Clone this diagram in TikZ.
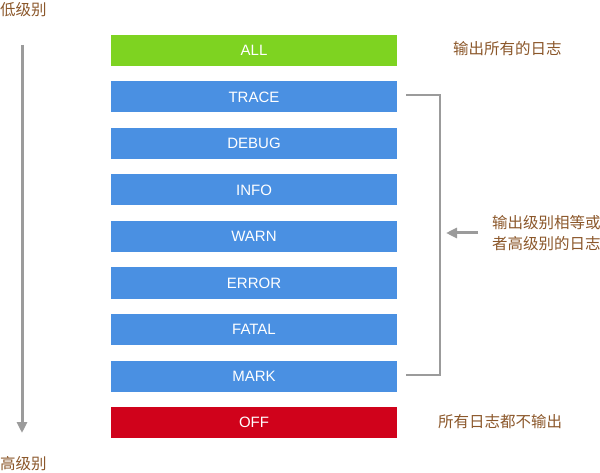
\documentclass[tikz,border=0pt]{standalone}
\usepackage{fontspec}
\setmainfont{Liberation Sans}
\newfontfamily\cjk{Noto Sans CJK SC}
\usetikzlibrary{arrows.meta}
\definecolor{lgreen}{HTML}{7ED321}
\definecolor{lblue}{HTML}{4A90E2}
\definecolor{lred}{HTML}{D0021B}
\definecolor{lbrown}{HTML}{8B572A}
\definecolor{lgray}{HTML}{9B9B9B}
\begin{document}
\begin{tikzpicture}[x=1pt,y=-1pt,
  lvl/.style={minimum width=286pt,minimum height=31pt,inner sep=0pt,text=white,font=\fontsize{15}{17}\selectfont},
  note/.style={text=lbrown,font=\cjk\fontsize{15.5}{21.5}\selectfont,inner sep=0pt,align=left},
  garrow/.style={draw=lgray,line width=3pt,-{Triangle[length=11pt,width=10pt]}}]
\useasboundingbox (0,0) rectangle (600,473);
\node[lvl,fill=lgreen] (all) at (254,50.5) {ALL};
\node[lvl,fill=lblue] (trace) at (254,97) {TRACE};
\node[lvl,fill=lblue] (debug) at (254,143.5) {DEBUG};
\node[lvl,fill=lblue] (info) at (254,190) {INFO};
\node[lvl,fill=lblue] (warn) at (254,236.5) {WARN};
\node[lvl,fill=lblue] (error) at (254,283) {ERROR};
\node[lvl,fill=lblue] (fatal) at (254,329.5) {FATAL};
\node[lvl,fill=lblue] (mark) at (254,376) {MARK};
\node[lvl,fill=lred] (off) at (254,422) {OFF};
\node[note,anchor=west] (tall) at (453,49) {输出所有的日志};
\node[note,anchor=west] (tmid) at (492,233) {输出级别相等或\\者高级别的日志};
\node[note,anchor=west] (toff) at (438,422) {所有日志都不输出};
\node[note,anchor=west] (low) at (0,10) {低级别};
\node[note,anchor=west] (high) at (0,464) {高级别};
\coordinate (b1) at (406,95);
\coordinate (b2) at (440,95);
\coordinate (b3) at (440,375);
\coordinate (b4) at (406,375);
\draw[lgray,line width=1.5pt] (b1) -- (b2) -- (b3) -- (b4);
\coordinate (a1) at (478,233);
\coordinate (a2) at (446,233);
\draw[garrow] (a1) -- (a2);
\coordinate (l1) at (22,45);
\coordinate (l2) at (22,433);
\draw[garrow] (l1) -- (l2);
\end{tikzpicture}
\end{document}
